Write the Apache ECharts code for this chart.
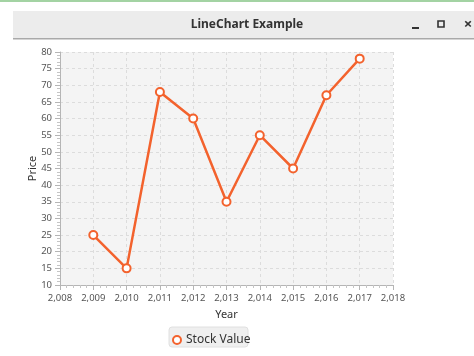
<!DOCTYPE html>
<html><head><meta charset="utf-8">
<script src="https://cdn.jsdelivr.net/npm/echarts@6/dist/echarts.min.js"></script>
<style>html,body{margin:0;padding:0;background:#fff}#c{width:474px;height:356px}</style>
</head><body><div id="c"></div>
<script>
var years = [2009, 2010, 2011, 2012, 2013, 2014, 2015, 2016, 2017];
var stockValues = [25, 15, 68, 60, 35, 55, 45, 67, 78];
var seriesName = 'Stock Value';
var chartTitle = 'LineChart Example';
var xAxisName = 'Year';
var yAxisName = 'Price';

var chart = echarts.init(document.getElementById('c'), null, {renderer: 'canvas'});
var font = '"Noto Sans", "DejaVu Sans", sans-serif';
var orange = '#f3622d';
chart.setOption({
  backgroundColor: '#ffffff',
  animation: false,
  textStyle: {fontFamily: font},
  graphic: [
    {type: 'rect', shape: {x: 0, y: 0, width: 474, height: 2}, style: {fill: '#a3d3a3'}, silent: true},
    {type: 'rect', shape: {x: 13, y: 11, width: 461, height: 28}, style: {fill: '#ececec'}, silent: true},
    {type: 'rect', shape: {x: 13, y: 38, width: 461, height: 1.5}, style: {fill: '#a9a9a9'}, silent: true},
    {type: 'text', x: 247, y: 25, style: {text: chartTitle, font: 'bold 12px ' + font, fill: '#333', textAlign: 'center', textVerticalAlign: 'middle'}, silent: true},
    {type: 'rect', shape: {x: 412, y: 27, width: 7, height: 2}, style: {fill: '#333'}, silent: true},
    {type: 'rect', shape: {x: 438, y: 21, width: 6, height: 6}, style: {fill: 'none', stroke: '#333', lineWidth: 1.6}, silent: true},
    {type: 'text', x: 468, y: 25, style: {text: '\u00d7', font: 'bold 15px ' + font, fill: '#333', textAlign: 'center', textVerticalAlign: 'middle'}, silent: true},
    {type: 'rect', shape: {x: 169, y: 327, width: 79, height: 20, r: 3}, style: {fill: '#efefef', stroke: '#e0e0e0', lineWidth: 1}, silent: true}
  ],
  grid: {left: 60, right: 81, top: 52, bottom: 71, show: true, backgroundColor: '#f4f4f4', borderWidth: 0},
  legend: {
    data: [{name: seriesName, icon: 'circle'}],
    left: 167, top: 329, itemWidth: 8, itemHeight: 8, itemGap: 4,
    textStyle: {fontSize: 12, color: '#333', fontFamily: font, padding: [0, 0, 0, 0]},
    itemStyle: {color: '#fff', borderColor: orange, borderWidth: 2}
  },
  xAxis: {
    type: 'value', min: 2008, max: 2018, interval: 1,
    name: xAxisName, nameLocation: 'middle', nameGap: 24, nameMoveOverlap: false,
    nameTextStyle: {fontSize: 11, color: '#333'},
    axisLine: {show: true, lineStyle: {color: '#b5b5b5'}},
    axisTick: {show: true, length: 5, lineStyle: {color: '#b5b5b5'}},
    minorTick: {show: true, splitNumber: 5, length: 3, lineStyle: {color: '#c5c5c5'}},
    axisLabel: {fontSize: 9.5, color: '#555', margin: 8, formatter: function (v) { return String(v).replace(/\B(?=(\d{3})+(?!\d))/g, ','); }},
    splitLine: {show: true, lineStyle: {color: '#dcdcdc', type: [3, 3]}}
  },
  yAxis: {
    type: 'value', min: 10, max: 80, interval: 5,
    name: yAxisName, nameLocation: 'middle', nameGap: 22, nameRotate: 90, nameMoveOverlap: false,
    nameTextStyle: {fontSize: 11, color: '#333'},
    axisLine: {show: true, lineStyle: {color: '#b5b5b5'}},
    axisTick: {show: true, length: 5, lineStyle: {color: '#b5b5b5'}},
    minorTick: {show: true, splitNumber: 5, length: 3, lineStyle: {color: '#c5c5c5'}},
    axisLabel: {fontSize: 9.5, color: '#555', margin: 8},
    splitLine: {show: true, lineStyle: {color: '#dcdcdc', type: [3, 3]}}
  },
  series: [{
    name: seriesName, type: 'line',
    data: years.map(function (y, i) { return [y, stockValues[i]]; }),
    symbol: 'circle', symbolSize: 8,
    lineStyle: {color: orange, width: 2.5},
    itemStyle: {color: '#fff', borderColor: orange, borderWidth: 2}
  }]
});
</script></body></html>
